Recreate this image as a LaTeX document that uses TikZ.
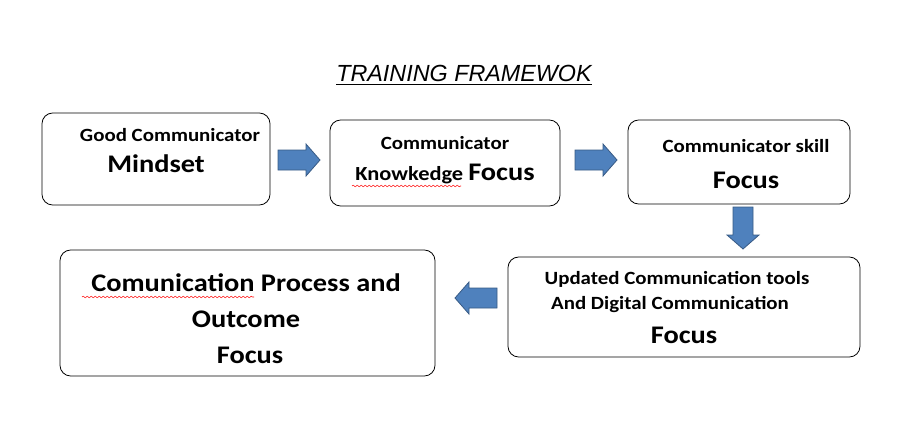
\documentclass[tikz,border=0pt]{standalone}
\usepackage{fontspec}
\setmainfont{Carlito}
\newfontfamily\ttl{Liberation Sans}
\usetikzlibrary{decorations.pathmorphing}
\definecolor{ab}{HTML}{4F81BD}
\newcommand{\blkarrow}[3]{% x y rotation
 \draw[arr,shift={(#1,#2)},rotate=#3] (-21,-10) -- (7,-10) -- (7,-16) -- (21,0) -- (7,16) -- (7,10) -- (-21,10) -- cycle;}
\begin{document}
\begin{tikzpicture}[x=0.75pt,y=-0.75pt,
 box/.style={draw,rounded corners=8pt,line width=0.6pt},
 sm/.style={font=\bfseries\fontsize{14}{16}\selectfont,xscale=1.12},
 bg/.style={font=\bfseries\fontsize{19}{22}\selectfont,xscale=1.12},
 arr/.style={fill=ab,draw=ab!70!black,line width=0.6pt},
 wavy/.style={red,line width=0.4pt,decorate,decoration={snake,amplitude=0.6pt,segment length=3pt}}]
\useasboundingbox (0,0) rectangle (904,429);
\node (title) at (464,75) {\ttl\itshape\fontsize{17.5}{20}\selectfont\underline{TRAINING FRAMEWOK}};
\draw[box] (42,113) rectangle (270,205);
\node[sm] (b1a) at (170,135) {Good Communicator};
\node[bg] (b1b) at (156,164) {Mindset};
\draw[box] (330,120) rectangle (560,206);
\node[sm] (b2a) at (445,143) {Communicator};
\node[xscale=1.12] (b2b) at (445,174) {\fontsize{15}{17}\selectfont\bfseries Knowkedge \fontsize{19}{22}\selectfont Focus};
\draw[wavy] (352,186) -- (461,186);
\draw[box] (628,120) rectangle (850,204);
\node[sm] (b3a) at (746,146) {Communicator skill};
\node[bg] (b3b) at (746,180) {Focus};
\draw[box] (508,257) rectangle (860,357);
\node[sm] (b4a) at (677,279) {Updated Communication tools};
\node[sm] (b4b) at (670,305) {And Digital Communication};
\node[bg] (b4c) at (684,335) {Focus};
\draw[box] (60,250) rectangle (435,376);
\node[bg] (b5a) at (246,283) {Comunication Process and};
\node[bg] (b5b) at (246,319) {Outcome};
\node[bg] (b5c) at (250,355) {Focus};
\draw[wavy] (82,297) -- (254,297);
\blkarrow{299}{160}{0}
\blkarrow{596}{160}{0}
\blkarrow{743}{228}{-90}
\blkarrow{476}{298}{180}
\end{tikzpicture}
\end{document}
